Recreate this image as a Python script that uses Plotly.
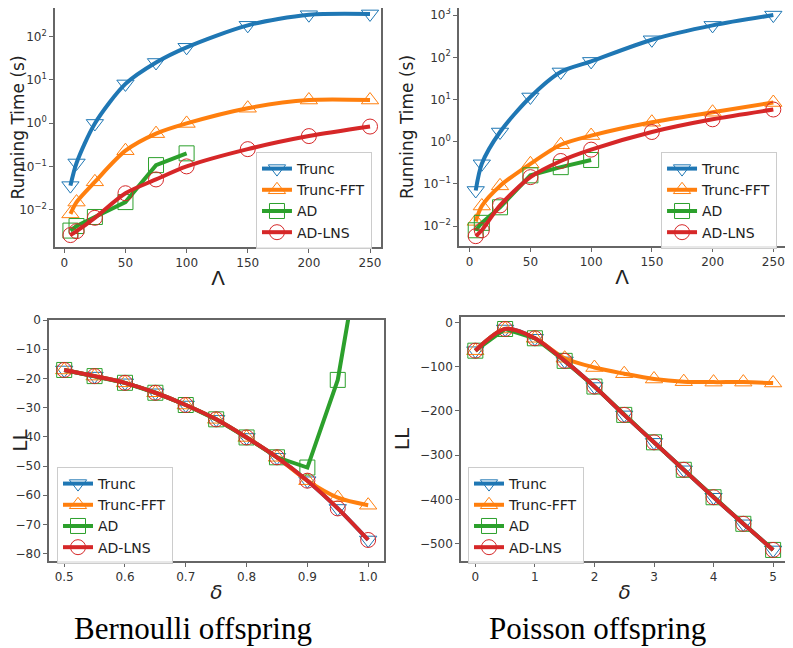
import plotly.graph_objects as go
from plotly.subplots import make_subplots

# --- running time vs Lambda ---
lam = [5, 10, 25, 50, 75, 100, 150, 200, 250]
lam_ad = [5, 10, 25, 50, 75, 100]

bern_trunc = [0.036, 0.12, 0.98, 8.0, 25, 56, 180, 316, 330]
bern_fft = [0.008, 0.015, 0.044, 0.23, 0.57, 0.98, 2.2, 3.4, 3.4]
bern_ad = [0.0033, 0.0042, 0.0068, 0.015, 0.107, 0.2]
bern_lns = [0.0026, 0.0032, 0.0065, 0.024, 0.05, 0.1, 0.25, 0.5, 0.83]

pois_trunc = [0.07, 0.3, 1.7, 11.5, 45, 80, 260, 570, 1000]
pois_fft = [0.013, 0.03, 0.09, 0.3, 0.85, 1.4, 2.9, 5.0, 8.5]
pois_ad = [0.008, 0.012, 0.028, 0.16, 0.25, 0.37]
pois_lns = [0.0058, 0.008, 0.031, 0.145, 0.35, 0.65, 1.7, 3.4, 5.8]

# --- log-likelihood vs delta ---
delta_b = [0.5, 0.55, 0.6, 0.65, 0.7, 0.75, 0.8, 0.85, 0.9, 0.95, 1.0]
ll_b_trunc = [-17.1, -19.2, -21.5, -24.9, -29.1, -34.0, -40.2, -47.0, -55.0, -64.5, -75.3]
ll_b_fft = [-17.1, -19.2, -21.5, -24.9, -29.1, -34.0, -40.2, -47.0, -55.0, -60.8, -63.4]
ll_b_ad = [-17.1, -19.2, -21.5, -24.9, -29.1, -34.0, -40.2, -47.0, -50.5, -20.5, 40.0]
ll_b_lns = [-17.1, -19.2, -21.5, -24.9, -29.1, -34.0, -40.2, -47.0, -55.0, -64.5, -75.3]

delta_p = [0, 0.5, 1.0, 1.5, 2.0, 2.5, 3.0, 3.5, 4.0, 4.5, 5.0]
ll_p_trunc = [-64, -15, -36, -87, -145, -209, -271, -333, -395, -455, -514]
ll_p_fft = [-64, -15, -36, -81, -102, -116, -128, -134, -135, -135, -137]
ll_p_ad = [-64, -15, -36, -87, -145, -209, -271, -333, -395, -455, -514]
ll_p_lns = [-64, -15, -36, -87, -145, -209, -271, -333, -395, -455, -514]

log_tickvals_b = [0.01, 0.1, 1, 10, 100]
log_ticktext_b = ["10<sup>−2</sup>", "10<sup>−1</sup>", "10<sup>0</sup>", "10<sup>1</sup>", "10<sup>2</sup>"]
log_tickvals_p = [0.01, 0.1, 1, 10, 100, 1000]
log_ticktext_p = ["10<sup>−2</sup>", "10<sup>−1</sup>", "10<sup>0</sup>", "10<sup>1</sup>", "10<sup>2</sup>",
                  "10<sup>3</sup>"]

names = ["Trunc", "Trunc-FFT", "AD", "AD-LNS"]
colors = ["#1f77b4", "#ff7f0e", "#2ca02c", "#d62728"]
symbols = ["triangle-down-open", "triangle-up-open", "square-open", "circle-open"]

fig = make_subplots(rows=2, cols=2)

panels = [
    (1, 1, "legend", [(lam, bern_trunc), (lam, bern_fft), (lam_ad, bern_ad), (lam, bern_lns)]),
    (1, 2, "legend2", [(lam, pois_trunc), (lam, pois_fft), (lam_ad, pois_ad), (lam, pois_lns)]),
    (2, 1, "legend3", [(delta_b, ll_b_trunc), (delta_b, ll_b_fft), (delta_b, ll_b_ad), (delta_b, ll_b_lns)]),
    (2, 2, "legend4", [(delta_p, ll_p_trunc), (delta_p, ll_p_fft), (delta_p, ll_p_ad), (delta_p, ll_p_lns)]),
]

for r, c, leg, series in panels:
    for i, (xs, ys) in enumerate(series):
        shape = "linear" if names[i] == "AD" else "spline"
        fig.add_trace(go.Scatter(
            x=xs, y=ys, name=names[i], mode="lines+markers",
            line=dict(color=colors[i], width=4, shape=shape, smoothing=0.8),
            marker=dict(symbol=symbols[i], size=15, color=colors[i], line=dict(width=1)),
            legend=leg,
        ), row=r, col=c)

axis_style = dict(showline=True, linecolor="#666", linewidth=1.5, mirror=True, automargin=True,
                  ticks="outside", ticklen=4, tickcolor="#666", showgrid=False, ticklabeloverflow="allow",
                  zeroline=False, tickfont=dict(family="DejaVu Sans", size=12, color="#333"))

fig.update_xaxes(**axis_style)
fig.update_yaxes(**axis_style)

title_font = dict(family="DejaVu Sans", size=20, color="#222")
rt_font = dict(family="DejaVu Sans", size=17, color="#222")

# domains (plot frames); page body adds an 8px offset
fig.update_layout(
    xaxis=dict(domain=[0.0593, 0.4704], range=[-7.6, 259], tickvals=[0, 50, 100, 150, 200, 250],
               title=dict(text="Λ", font=title_font, standoff=2)),
    yaxis=dict(domain=[0.6312, 1.0], type="log", range=[-2.86, 2.655],
               tickvals=log_tickvals_b, ticktext=log_ticktext_b,
               title=dict(text="Running Time (s)", font=rt_font, standoff=5)),
    xaxis2=dict(domain=[0.5687, 0.9798], range=[-8.8, 259.6], tickvals=[0, 50, 100, 150, 200, 250],
                title=dict(text="Λ", font=title_font, standoff=2)),
    yaxis2=dict(domain=[0.6327, 1.0], type="log", range=[-2.47, 3.168],
                tickvals=log_tickvals_p, ticktext=log_ticktext_p,
                title=dict(text="Running Time (s)", font=rt_font, standoff=5)),
    xaxis3=dict(domain=[0.0517, 0.4741], range=[0.475, 1.026], tickvals=[0.5, 0.6, 0.7, 0.8, 0.9, 1.0],
                ticktext=["0.5", "0.6", "0.7", "0.8", "0.9", "1.0"],
                title=dict(text="<i>δ</i>", font=title_font, standoff=2)),
    yaxis3=dict(domain=[0.1466, 0.5185], range=[-82.5, 0], dtick=10,
                title=dict(text="LL", font=title_font, standoff=5)),
    xaxis4=dict(domain=[0.5713, 0.9836], range=[-0.24, 5.25], dtick=1,
                title=dict(text="<i>δ</i>", font=title_font, standoff=2)),
    yaxis4=dict(domain=[0.1466, 0.5231], range=[-539, 12], dtick=100,
                title=dict(text="LL", font=title_font, standoff=5)),
)

leg_style = dict(bgcolor="rgba(255,255,255,0.85)", bordercolor="#cccccc", borderwidth=1,
                 font=dict(family="DejaVu Sans", size=14, color="#222"),
                 xanchor="left", yanchor="top", itemwidth=30, tracegroupgap=0)

fig.update_layout(
    legend=dict(x=0.3127, y=0.7778, **leg_style),
    legend2=dict(x=0.8235, y=0.7778, **leg_style),
    legend3=dict(x=0.0618, y=0.2917, **leg_style),
    legend4=dict(x=0.5801, y=0.2917, **leg_style),
)

fig.add_annotation(text="Bernoulli offspring", x=0.2333, y=0.042, xref="paper", yref="paper",
                   xanchor="center", yanchor="middle", showarrow=False,
                   font=dict(family="Liberation Serif", size=31, color="black"))
fig.add_annotation(text="Poisson offspring", x=0.744, y=0.042, xref="paper", yref="paper",
                   xanchor="center", yanchor="middle", showarrow=False,
                   font=dict(family="Liberation Serif", size=31, color="black"))

fig.update_layout(
    width=793, height=648,
    margin=dict(l=0, r=0, t=0, b=0, autoexpand=False),
    paper_bgcolor="white", plot_bgcolor="white",
    font=dict(family="DejaVu Sans", color="#333"),
)

fig.write_html("out.html")
